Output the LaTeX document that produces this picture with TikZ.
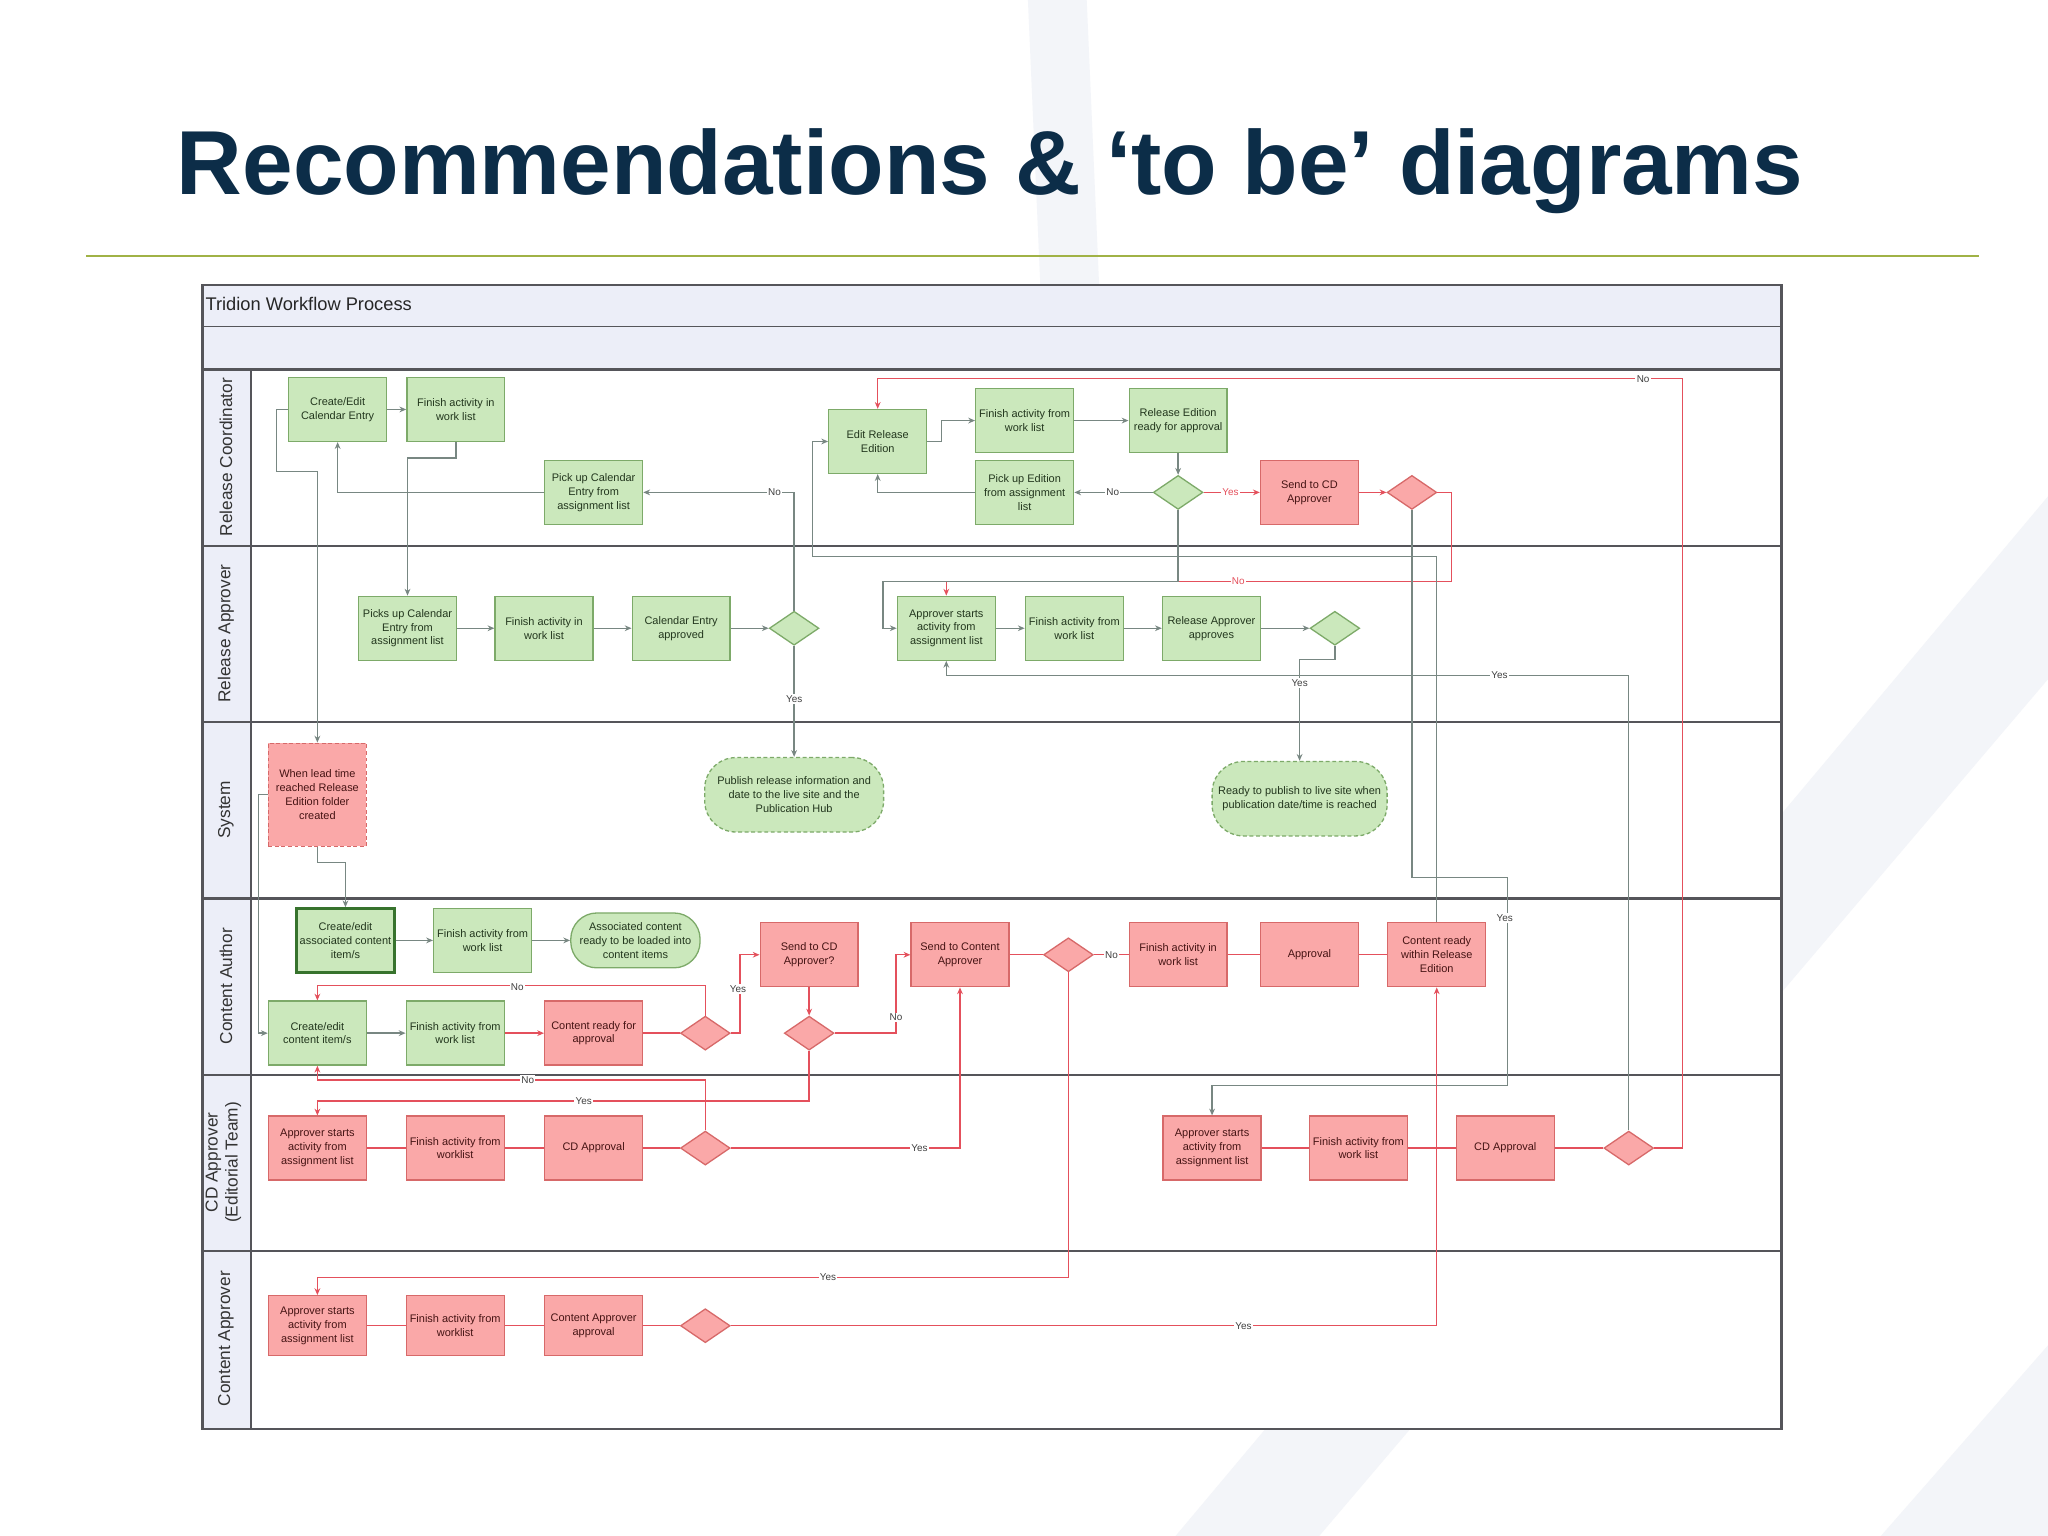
\documentclass[tikz,border=0pt]{standalone}
\usepackage{fontspec}
\setmainfont{Liberation Sans}
\usetikzlibrary{arrows.meta,shapes.geometric}
\definecolor{titleblue}{RGB}{12,45,72}
\definecolor{olive}{RGB}{160,178,70}
\definecolor{lav}{RGB}{236,238,248}
\definecolor{lanel}{RGB}{85,85,90}
\definecolor{gfill}{RGB}{203,232,188}
\definecolor{gdraw}{RGB}{125,170,105}
\definecolor{gdark}{RGB}{55,115,45}
\definecolor{rfill}{RGB}{250,168,168}
\definecolor{rdraw}{RGB}{215,105,105}
\definecolor{gline}{RGB}{120,135,130}
\definecolor{rline}{RGB}{228,80,92}
\definecolor{wm}{RGB}{243,245,249}
\definecolor{gtext}{RGB}{35,55,30}
\definecolor{rtext}{RGB}{70,20,20}
\begin{document}
\begin{tikzpicture}[x=0.5pt,y=-0.5pt,
 box/.style={rectangle, align=center, minimum width=37.5pt, minimum height=24.5pt, inner sep=0.5pt, font=\fontsize{4.2}{5.3}\selectfont, line width=0.5pt},
 gbox/.style={box, fill=gfill, draw=gdraw, text=gtext},
 rbox/.style={box, fill=rfill, draw=rdraw, text=rtext},
 dia/.style={diamond, minimum width=19pt, minimum height=13pt, inner sep=0pt, line width=0.5pt},
 gdia/.style={dia, fill=gfill, draw=gdraw},
 rdia/.style={dia, fill=rfill, draw=rdraw},
 dsh/.style={dash pattern=on 1.5pt off 1pt},
 gl/.style={draw=gline, line width=0.55pt, -{Stealth[length=2.6pt,width=2.2pt]}},
 rl/.style={draw=rline, line width=0.55pt, -{Stealth[length=2.6pt,width=2.2pt]}},
 glp/.style={draw=gline, line width=0.55pt},
 rlp/.style={draw=rline, line width=0.55pt},
 lab/.style={font=\fontsize{3.8}{4}\selectfont, fill=white, inner sep=0.5pt, text=black!75},
 rlab/.style={lab, text=rline},
 lanetxt/.style={rotate=90, font=\fontsize{6.6}{7.6}\selectfont, text=black!80, align=center},
]
\useasboundingbox (0,0) rectangle (1568,1176);
\fill[white] (0,0) rectangle (1568,1176);
% watermark
\fill[wm] (787,0) -- (832,0) -- (842,230) -- (797,230) -- cycle;
\fill[wm] (1568,380) -- (1568,520) -- (1010,1176) -- (900,1176) -- cycle;
\fill[wm] (1440,1176) -- (1568,1030) -- (1568,1176) -- cycle;
% title
\node[anchor=base west, inner sep=0pt, font=\fontsize{34.8}{40}\selectfont\bfseries, text=titleblue] (title) at (135,149) {Recommendations \& ‘to be’ diagrams};
\draw[olive, line width=1pt] (66,196) -- (1515,196);
% frame
\fill[white] (155,218) rectangle (1364,1094);
\fill[lav] (155,218) rectangle (1364,283);
\fill[lav] (155,283) rectangle (192,1094);
\draw[lanel, line width=0.6pt] (155,250) -- (1364,250);
\foreach \yy in {283,418,553,688,823,958} \draw[lanel, line width=0.9pt] (155,\yy) -- (1364,\yy);
\draw[lanel, line width=0.9pt] (192,283) -- (192,1094);
\draw[lanel, line width=0.9pt] (155,218) rectangle (1364,1094);
\node[anchor=west, inner sep=0pt, font=\fontsize{7}{8}\selectfont, text=black!85] (hdr) at (157,233) {Tridion Workflow Process};
\node[lanetxt] (l1) at (173,350) {Release Coordinator};
\node[lanetxt] (l2) at (173,485) {Release Approver};
\node[lanetxt] (l3) at (173,620) {System};
\node[lanetxt] (l4) at (173,755) {Content Author};
\node[lanetxt] (l5) at (171,890) {CD Approver\\(Editorial Team)};
\node[lanetxt] (l6) at (173,1025) {Content Approver};
% Release Coordinator
\node[gbox] (rc1) at (258.5,313.5) {Create/Edit\\Calendar Entry};
\node[gbox] (rc2) at (349,313.5) {Finish activity in\\work list};
\node[gbox] (rc3) at (454.5,377) {Pick up Calendar\\Entry from\\assignment list};
\node[gbox] (rc4) at (672,338) {Edit Release\\Edition};
\node[gbox] (rc5) at (784.5,322) {Finish activity from\\work list};
\node[gbox] (rc6) at (902,322) {Release Edition\\ready for approval};
\node[gbox] (rc7) at (784.5,377) {Pick up Edition\\from assignment\\list};
\node[gdia] (rcd1) at (902,377) {};
\node[rbox] (rc8) at (1002.5,377) {Send to CD\\Approver};
\node[rdia] (rcd2) at (1081,377) {};
% Release Approver
\node[gbox] (ra1) at (312,481) {Picks up Calendar\\Entry from\\assignment list};
\node[gbox] (ra2) at (416.5,481) {Finish activity in\\work list};
\node[gbox] (ra3) at (521.5,481) {Calendar Entry\\approved};
\node[gdia] (rad1) at (608,481) {};
\node[gbox] (ra4) at (724.5,481) {Approver starts\\activity from\\assignment list};
\node[gbox] (ra5) at (822.5,481) {Finish activity from\\work list};
\node[gbox] (ra6) at (927.5,481) {Release Approver\\approves};
\node[gdia] (rad2) at (1022,481) {};
% System
\node[rbox, dsh, minimum height=39.5pt] (s1) at (243,608.5) {When lead time\\reached Release\\Edition folder\\created};
\node[gbox, dsh, rounded corners=12pt, minimum width=68.5pt, minimum height=28.5pt] (s2) at (608,608.5) {Publish release information and\\date to the live site and the\\Publication Hub};
\node[gbox, dsh, rounded corners=12pt, minimum width=67pt, minimum height=28.5pt] (s3) at (995,611.5) {Ready to publish to live site when\\publication date/time is reached};
% Content Author
\node[gbox, draw=gdark, line width=0.9pt] (ca1) at (264.5,720) {Create/edit\\associated content\\item/s};
\node[gbox] (ca2) at (369.5,720) {Finish activity from\\work list};
\node[gbox, rounded corners=10pt, minimum width=49.5pt, minimum height=21pt] (ca3) at (486.5,720) {Associated content\\ready to be loaded into\\content items};
\node[gbox] (ca4) at (243,791) {Create/edit\\content item/s};
\node[gbox] (ca5) at (348.5,791) {Finish activity from\\work list};
\node[rbox] (ca6) at (454.5,791) {Content ready for\\approval};
\node[rdia] (cad1) at (540,791) {};
\node[rbox] (ca7) at (619.5,731) {Send to CD\\Approver?};
\node[rdia] (cad2) at (619.5,791) {};
\node[rbox] (ca8) at (735,731) {Send to Content\\Approver};
\node[rdia] (cad3) at (818,731) {};
\node[rbox] (ca9) at (902,731) {Finish activity in\\work list};
\node[rbox] (ca10) at (1002.5,731) {Approval};
\node[rbox] (ca11) at (1100,731) {Content ready\\within Release\\Edition};
% CD Approver
\node[rbox] (cd1) at (243,879) {Approver starts\\activity from\\assignment list};
\node[rbox] (cd2) at (348.5,879) {Finish activity from\\worklist};
\node[rbox] (cd3) at (454.5,879) {CD Approval};
\node[rdia] (cdd1) at (540,879) {};
\node[rbox] (cd4) at (928,879) {Approver starts\\activity from\\assignment list};
\node[rbox] (cd5) at (1040,879) {Finish activity from\\work list};
\node[rbox] (cd6) at (1152.5,879) {CD Approval};
\node[rdia] (cdd2) at (1247,879) {};
% Content Approver
\node[rbox, minimum height=23pt] (cp1) at (243,1015) {Approver starts\\activity from\\assignment list};
\node[rbox, minimum height=23pt] (cp2) at (348.5,1015) {Finish activity from\\worklist};
\node[rbox, minimum height=23pt] (cp3) at (454.5,1015) {Content Approver\\approval};
\node[rdia] (cpd1) at (540,1015) {};
% ---- connectors (grey)
\draw[gl] (rc1.east) -- (rc2.west);
\draw[gl] (rc2.south) -- ++(0,12) -| (ra1.north);
\draw[gl] (rc1.west) -- ++(-9,0) -- ++(0,47.5) -| (s1.north);
\draw[gl] (rc3.west) -| (rc1.south);
\draw[gl] (rad1.north) |- (rc3.east);
\draw[gl] (ra1.east) -- (ra2.west);
\draw[gl] (ra2.east) -- (ra3.west);
\draw[gl] (ra3.east) -- (rad1.west);
\draw[gl] (rad1.south) -- (s2.north);
\draw[gl] (rc4.east) -- ++(11,0) |- (rc5.west);
\draw[gl] (rc5.east) -- (rc6.west);
\draw[gl] (rc6.south) -- (rcd1.north);
\draw[gl] (rcd1.west) -- (rc7.east);
\draw[gl] (rc7.west) -| (rc4.south);
\draw[rl] (rcd1.east) -- (rc8.west);
\draw[rl] (rc8.east) -- (rcd2.west);
\draw[rl] (cdd2.east) -| (1288,290) -| (rc4.north);
\draw[rl] (rcd2.east) -- ++(11,0) |- (724.5,445) -- (ra4.north);
\draw[gl] (rcd1.south) |- (676,445) |- (ra4.west);
\draw[gl] (ca11.north) |- (622,426) |- (rc4.west);
\draw[gl] (rcd2.south) |- (1154,672) |- (928,831) -- (cd4.north);
\draw[gl] (ra4.east) -- (ra5.west);
\draw[gl] (ra5.east) -- (ra6.west);
\draw[gl] (ra6.east) -- (rad2.west);
\draw[gl] (rad2.south) |- (995,505) -- (s3.north);
\draw[gl] (cdd2.north) |- (724.5,517) -- (ra4.south);
\draw[gl] (s1.west) -- ++(-7,0) |- (ca4.west);
\draw[gl] (s1.south) -- ++(0,12) -| (ca1.north);
\draw[gl] (ca1.east) -- (ca2.west);
\draw[gl] (ca2.east) -- (ca3.west);
\draw[gl] (ca4.east) -- (ca5.west);
% ---- connectors (red)
\draw[rl] (ca5.east) -- (ca6.west);
\draw[rlp] (ca6.east) -- (cad1.west);
\draw[rl] (cad1.north) -- ++(0,-23) -| (ca4.north);
\draw[rl] (cad1.east) -- ++(7,0) |- (ca7.west);
\draw[rl] (ca7.south) -- (cad2.north);
\draw[rl] (cad2.east) -- ++(47,0) |- (ca8.west);
\draw[rl] (cad2.south) |- (243,843) -- (cd1.north);
\draw[rl] (cdd1.north) |- (243,827) -- (ca4.south);
\draw[rlp] (cd1.east) -- (cd2.west);
\draw[rlp] (cd2.east) -- (cd3.west);
\draw[rlp] (cd3.east) -- (cdd1.west);
\draw[rl] (cdd1.east) -| (ca8.south);
\draw[rlp] (ca8.east) -- (cad3.west);
\draw[rlp] (cad3.east) -- (ca9.west);
\draw[rlp] (ca9.east) -- (ca10.west);
\draw[rlp] (ca10.east) -- (ca11.west);
\draw[rl] (cad3.south) |- (243,978) -- (cp1.north);
\draw[rlp] (cp1.east) -- (cp2.west);
\draw[rlp] (cp2.east) -- (cp3.west);
\draw[rlp] (cp3.east) -- (cpd1.west);
\draw[rl] (cpd1.east) -| (ca11.south);
\draw[rlp] (cd4.east) -- (cd5.west);
\draw[rlp] (cd5.east) -- (cd6.west);
\draw[rlp] (cd6.east) -- (cdd2.west);
% ---- labels
\node[lab] (n1) at (593,377) {No};
\node[lab] (n2) at (608,535) {Yes};
\node[lab] (n3) at (852,377) {No};
\node[rlab] (n4) at (942,377) {Yes};
\node[lab] (n5) at (1258,290) {No};
\node[rlab] (n6) at (948,445) {No};
\node[lab] (n7) at (995,523) {Yes};
\node[lab] (n8) at (1148,517) {Yes};
\node[lab] (n9) at (1152,703) {Yes};
\node[lab] (n10) at (396,755.5) {No};
\node[lab] (n11) at (565,757) {Yes};
\node[lab] (n12) at (686,779) {No};
\node[lab] (n13) at (404,827) {No};
\node[lab] (n14) at (447,843) {Yes};
\node[lab] (n15) at (704,879) {Yes};
\node[lab] (n16) at (851,731) {No};
\node[lab] (n17) at (634,978) {Yes};
\node[lab] (n18) at (952,1015) {Yes};
\end{tikzpicture}
\end{document}
